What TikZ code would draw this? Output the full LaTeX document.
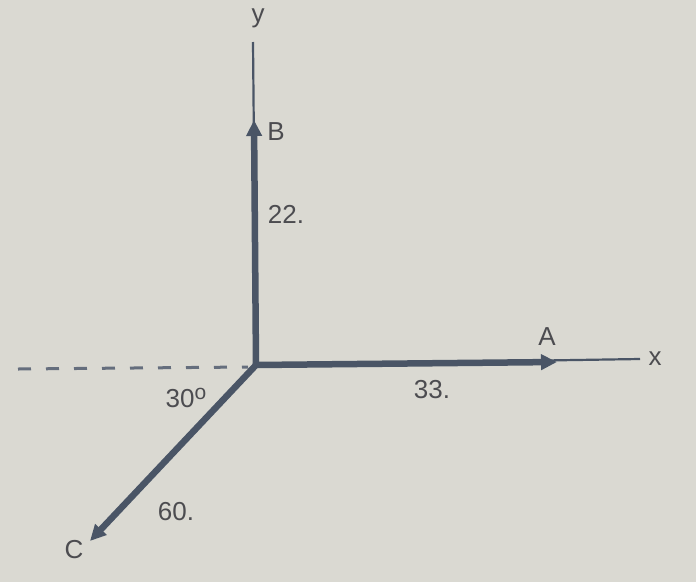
\documentclass[tikz,border=0pt]{standalone}
\usepackage{fontspec}
\setmainfont{Liberation Sans}
\usetikzlibrary{arrows.meta}
\definecolor{bg}{HTML}{DAD9D2}
\definecolor{ink}{HTML}{4A5566}
\definecolor{txt}{HTML}{4C4C50}
\begin{document}
\begin{tikzpicture}[x=1pt,y=-1pt,
  vec/.style={ink, line width=6.5pt, -{Triangle[length=16pt,width=15pt]}},
  axisline/.style={ink, line width=2.2pt},
  dashline/.style={ink!85, line width=3pt, dash pattern=on 13pt off 15pt},
  lbl/.style={text=txt, font=\fontsize{26}{30}\selectfont, inner sep=0pt}]
\fill[bg] (0,0) rectangle (696,582);
\useasboundingbox (0,0) rectangle (696,582);
% points
\coordinate (O) at (256,365);
\coordinate (Ytop) at (253,42);
\coordinate (Btip) at (254,120);
\coordinate (Atip) at (557,362);
\coordinate (Xend) at (640,359);
\coordinate (Ctip) at (90,541);
\coordinate (Dleft) at (18,369);
\coordinate (Dright) at (248,367);
% axes
\draw[axisline] (O) -- (Ytop);
\draw[axisline] (O) -- (Xend);
\draw[dashline] (Dleft) -- (Dright);
% vectors
\draw[vec] (O) -- (Btip);
\draw[vec] (O) -- (Atip);
\draw[vec] (O) -- (Ctip);
% labels
\node[lbl] (ylab) at (258,18) {y};
\node[lbl] (Blab) at (276,132) {B};
\node[lbl] (Blen) at (286,214) {22.};
\node[lbl] (Alab) at (547,337) {A};
\node[lbl] (xlab) at (655,359) {x};
\node[lbl] (Alen) at (432,390) {33.};
\node[lbl] (ang) at (186,398) {30\raisebox{8pt}{\fontsize{21}{24}\selectfont o}};
\node[lbl] (Clen) at (176,512) {60.};
\node[lbl] (Clab) at (74,550) {C};
\end{tikzpicture}
\end{document}
